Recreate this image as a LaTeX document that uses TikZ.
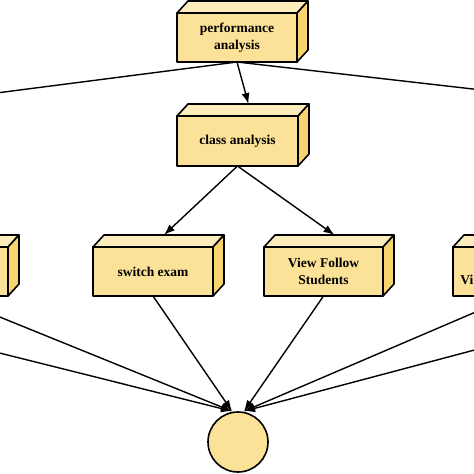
\documentclass[tikz,border=0pt]{standalone}
\usepackage{fontspec}
\setmainfont{Liberation Serif}
\usetikzlibrary{arrows.meta}
\definecolor{frontf}{RGB}{252,226,152}
\definecolor{topf}{RGB}{253,237,188}
\definecolor{sidef}{RGB}{247,212,110}
\tikzset{
  face/.style={draw=black, line width=1.6pt, line join=round},
  boxlabel/.style={font=\bfseries\fontsize{13.5}{17}\selectfont, align=center, inner sep=0pt},
  conn/.style={line width=1.4pt},
  arr/.style={conn, -{Latex[length=11pt,width=8pt]}},
}
\newcommand\cuboid[6]{%
  \node[face, fill=frontf, minimum width=#4pt, minimum height=#5pt, inner sep=0pt, outer sep=0pt] (#1) at (#2,#3) {};
  \filldraw[face, fill=topf] (#1.north west) -- ++(11,-12) -- ++(#4,0) -- (#1.north east) -- cycle;
  \filldraw[face, fill=sidef] (#1.north east) -- ++(11,-12) -- ++(0,#5) -- (#1.south east) -- cycle;
  \coordinate (#1-top) at ([shift={(11,-12)}]#1.north);
  \node[boxlabel] at (#1) {#6};
}
\begin{document}
\begin{tikzpicture}[x=1pt,y=-1pt]
\useasboundingbox (0,0) rectangle (474,474);
\clip (0,0) rectangle (474,474);
% boxes
\cuboid{perf}{237}{37.5}{120}{49}{performance\\analysis}
\cuboid{class}{237.5}{141}{121}{50}{class analysis}
\cuboid{switch}{153}{271.5}{120}{49}{switch exam}
\cuboid{follow}{323.5}{271.5}{119}{49}{View Follow\\Students}
\cuboid{leftbox}{-52}{271.5}{120}{49}{}
\cuboid{rightbox}{513}{271.5}{120}{49}{}
\node[boxlabel, anchor=east] (rightlabel) at (473.5,280) {Vi};
% end circle
\node[circle, draw=black, line width=1.6pt, fill=frontf, minimum size=60pt, inner sep=0pt] (end) at (238,442) {};
\coordinate (endL) at ([shift={(-6,0)}]end.north);
\coordinate (endR) at ([shift={(6,0)}]end.north);
% off-picture ends
\coordinate (farTL) at (-40,97.7);
\coordinate (farTR) at (514,93.7);
\coordinate (farBL) at (-228,296);
\coordinate (farBR) at (678,296);
% connectors
\draw[conn] (perf.south) -- (farTL);
\draw[conn] (perf.south) -- (farTR);
\draw[arr] (perf.south) -- (class-top);
\draw[arr] (class.south) -- (switch-top);
\draw[arr] (class.south) -- (follow-top);
\draw[arr] (leftbox.south) -- (endL);
\draw[arr] (farBL) -- (endL);
\draw[arr] (switch.south) -- (endL);
\draw[arr] (rightbox.south) -- (endR);
\draw[arr] (farBR) -- (endR);
\draw[arr] (follow.south) -- (endR);
\end{tikzpicture}
\end{document}
